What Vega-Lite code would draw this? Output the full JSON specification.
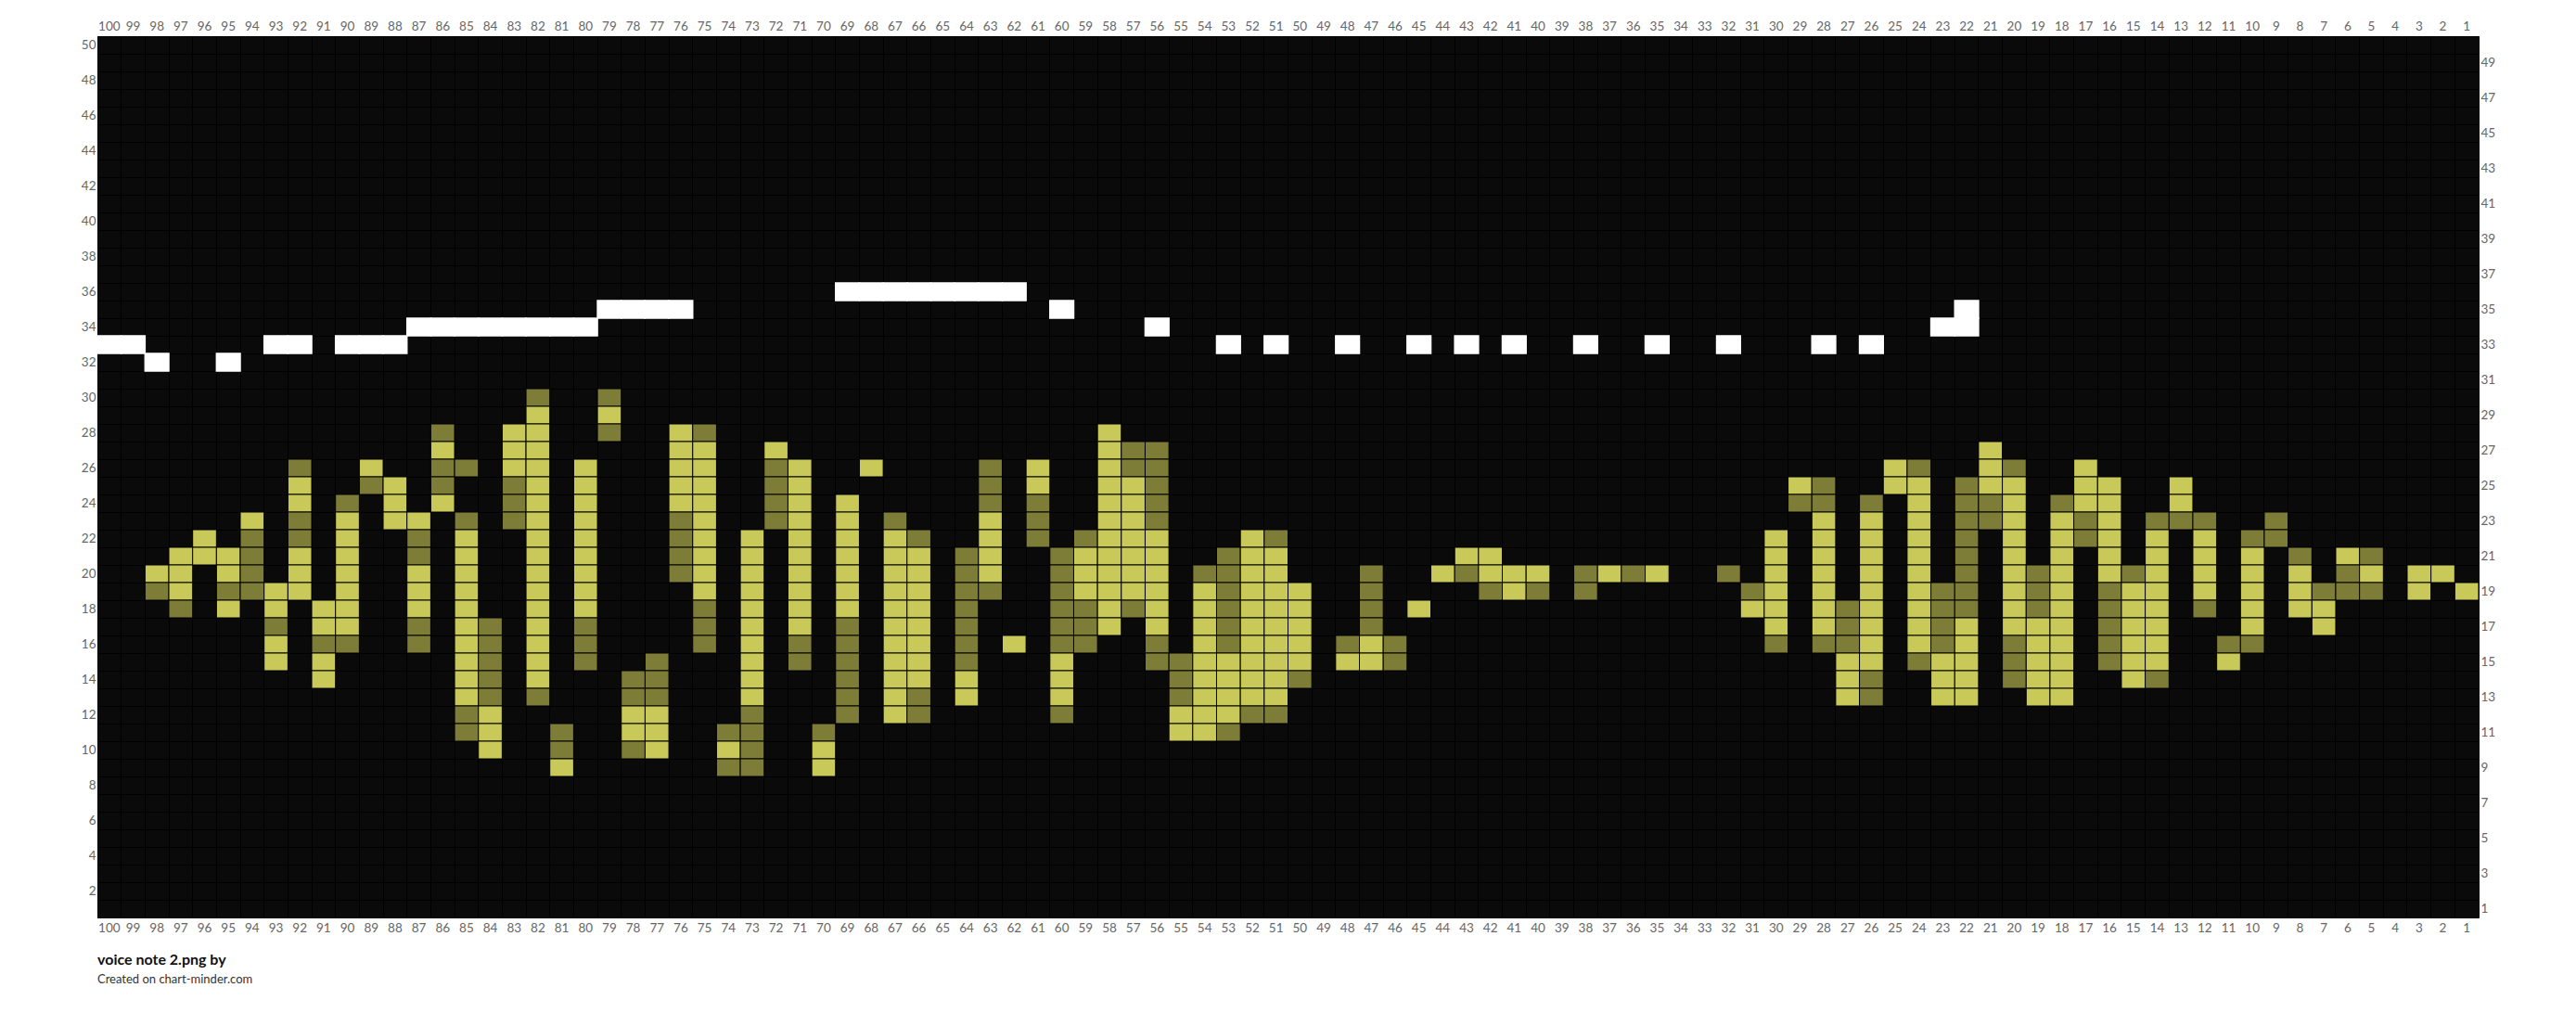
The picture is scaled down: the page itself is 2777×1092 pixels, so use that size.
{
  "$schema": "https://vega.github.io/schema/vega-lite/v6.json",
  "autosize": "none",
  "width": 2567,
  "height": 950,
  "padding": {"left": 105, "top": 39, "right": 105, "bottom": 103},
  "background": "#ffffff",
  "config": {"view": {"fill": "#0a0a0a", "stroke": "#000000"}, "font": "Lato"},
  "title": {"text": "voice note 2.png by", "subtitle": "Created on chart-minder.com", "orient": "bottom", "anchor": "start", "frame": "group", "font": "Lato", "fontSize": 16, "fontWeight": "bold", "color": "#111111", "subtitleFont": "Lato", "subtitleFontSize": 13, "subtitleColor": "#333333", "subtitlePadding": 7, "offset": 20},
  "data": {"values": [
    {"c":100,"r":33,"v":"W"},
    {"c":99,"r":33,"v":"W"},
    {"c":98,"r":32,"v":"W"},{"c":98,"r":20,"v":"Y"},{"c":98,"r":19,"v":"O"},
    {"c":97,"r":21,"v":"Y"},{"c":97,"r":20,"v":"Y"},{"c":97,"r":19,"v":"Y"},{"c":97,"r":18,"v":"O"},
    {"c":96,"r":22,"v":"Y"},{"c":96,"r":21,"v":"Y"},
    {"c":95,"r":32,"v":"W"},{"c":95,"r":21,"v":"Y"},{"c":95,"r":20,"v":"Y"},{"c":95,"r":19,"v":"O"},{"c":95,"r":18,"v":"Y"},
    {"c":94,"r":23,"v":"Y"},{"c":94,"r":22,"v":"O"},{"c":94,"r":21,"v":"O"},{"c":94,"r":20,"v":"O"},{"c":94,"r":19,"v":"O"},
    {"c":93,"r":33,"v":"W"},{"c":93,"r":19,"v":"Y"},{"c":93,"r":18,"v":"Y"},{"c":93,"r":17,"v":"O"},{"c":93,"r":16,"v":"Y"},{"c":93,"r":15,"v":"Y"},
    {"c":92,"r":33,"v":"W"},{"c":92,"r":26,"v":"O"},{"c":92,"r":25,"v":"Y"},{"c":92,"r":24,"v":"Y"},{"c":92,"r":23,"v":"O"},{"c":92,"r":22,"v":"O"},{"c":92,"r":21,"v":"Y"},{"c":92,"r":20,"v":"Y"},{"c":92,"r":19,"v":"Y"},
    {"c":91,"r":18,"v":"Y"},{"c":91,"r":17,"v":"Y"},{"c":91,"r":16,"v":"O"},{"c":91,"r":15,"v":"Y"},{"c":91,"r":14,"v":"Y"},
    {"c":90,"r":33,"v":"W"},{"c":90,"r":24,"v":"O"},{"c":90,"r":23,"v":"Y"},{"c":90,"r":22,"v":"Y"},{"c":90,"r":21,"v":"Y"},{"c":90,"r":20,"v":"Y"},{"c":90,"r":19,"v":"Y"},{"c":90,"r":18,"v":"Y"},{"c":90,"r":17,"v":"Y"},{"c":90,"r":16,"v":"O"},
    {"c":89,"r":33,"v":"W"},{"c":89,"r":26,"v":"Y"},{"c":89,"r":25,"v":"O"},
    {"c":88,"r":33,"v":"W"},{"c":88,"r":25,"v":"Y"},{"c":88,"r":24,"v":"Y"},{"c":88,"r":23,"v":"Y"},
    {"c":87,"r":34,"v":"W"},{"c":87,"r":23,"v":"Y"},{"c":87,"r":22,"v":"O"},{"c":87,"r":21,"v":"O"},{"c":87,"r":20,"v":"Y"},{"c":87,"r":19,"v":"Y"},{"c":87,"r":18,"v":"Y"},{"c":87,"r":17,"v":"O"},{"c":87,"r":16,"v":"O"},
    {"c":86,"r":34,"v":"W"},{"c":86,"r":28,"v":"O"},{"c":86,"r":27,"v":"Y"},{"c":86,"r":26,"v":"O"},{"c":86,"r":25,"v":"O"},{"c":86,"r":24,"v":"Y"},
    {"c":85,"r":34,"v":"W"},{"c":85,"r":26,"v":"O"},{"c":85,"r":23,"v":"O"},{"c":85,"r":22,"v":"Y"},{"c":85,"r":21,"v":"Y"},{"c":85,"r":20,"v":"Y"},{"c":85,"r":19,"v":"Y"},{"c":85,"r":18,"v":"Y"},{"c":85,"r":17,"v":"Y"},{"c":85,"r":16,"v":"Y"},{"c":85,"r":15,"v":"Y"},{"c":85,"r":14,"v":"Y"},{"c":85,"r":13,"v":"Y"},{"c":85,"r":12,"v":"O"},{"c":85,"r":11,"v":"O"},
    {"c":84,"r":34,"v":"W"},{"c":84,"r":17,"v":"O"},{"c":84,"r":16,"v":"O"},{"c":84,"r":15,"v":"O"},{"c":84,"r":14,"v":"O"},{"c":84,"r":13,"v":"O"},{"c":84,"r":12,"v":"Y"},{"c":84,"r":11,"v":"Y"},{"c":84,"r":10,"v":"Y"},
    {"c":83,"r":34,"v":"W"},{"c":83,"r":28,"v":"Y"},{"c":83,"r":27,"v":"Y"},{"c":83,"r":26,"v":"Y"},{"c":83,"r":25,"v":"O"},{"c":83,"r":24,"v":"O"},{"c":83,"r":23,"v":"O"},
    {"c":82,"r":34,"v":"W"},{"c":82,"r":30,"v":"O"},{"c":82,"r":29,"v":"Y"},{"c":82,"r":28,"v":"Y"},{"c":82,"r":27,"v":"Y"},{"c":82,"r":26,"v":"Y"},{"c":82,"r":25,"v":"Y"},{"c":82,"r":24,"v":"Y"},{"c":82,"r":23,"v":"Y"},{"c":82,"r":22,"v":"Y"},{"c":82,"r":21,"v":"Y"},{"c":82,"r":20,"v":"Y"},{"c":82,"r":19,"v":"Y"},{"c":82,"r":18,"v":"Y"},{"c":82,"r":17,"v":"Y"},{"c":82,"r":16,"v":"Y"},{"c":82,"r":15,"v":"Y"},{"c":82,"r":14,"v":"Y"},{"c":82,"r":13,"v":"O"},
    {"c":81,"r":34,"v":"W"},{"c":81,"r":11,"v":"O"},{"c":81,"r":10,"v":"O"},{"c":81,"r":9,"v":"Y"},
    {"c":80,"r":34,"v":"W"},{"c":80,"r":26,"v":"Y"},{"c":80,"r":25,"v":"Y"},{"c":80,"r":24,"v":"Y"},{"c":80,"r":23,"v":"Y"},{"c":80,"r":22,"v":"Y"},{"c":80,"r":21,"v":"Y"},{"c":80,"r":20,"v":"Y"},{"c":80,"r":19,"v":"Y"},{"c":80,"r":18,"v":"Y"},{"c":80,"r":17,"v":"O"},{"c":80,"r":16,"v":"O"},{"c":80,"r":15,"v":"O"},
    {"c":79,"r":35,"v":"W"},{"c":79,"r":30,"v":"O"},{"c":79,"r":29,"v":"Y"},{"c":79,"r":28,"v":"O"},
    {"c":78,"r":35,"v":"W"},{"c":78,"r":14,"v":"O"},{"c":78,"r":13,"v":"O"},{"c":78,"r":12,"v":"Y"},{"c":78,"r":11,"v":"Y"},{"c":78,"r":10,"v":"O"},
    {"c":77,"r":35,"v":"W"},{"c":77,"r":15,"v":"O"},{"c":77,"r":14,"v":"O"},{"c":77,"r":13,"v":"O"},{"c":77,"r":12,"v":"Y"},{"c":77,"r":11,"v":"Y"},{"c":77,"r":10,"v":"Y"},
    {"c":76,"r":35,"v":"W"},{"c":76,"r":28,"v":"Y"},{"c":76,"r":27,"v":"Y"},{"c":76,"r":26,"v":"Y"},{"c":76,"r":25,"v":"Y"},{"c":76,"r":24,"v":"Y"},{"c":76,"r":23,"v":"O"},{"c":76,"r":22,"v":"O"},{"c":76,"r":21,"v":"O"},{"c":76,"r":20,"v":"O"},
    {"c":75,"r":28,"v":"O"},{"c":75,"r":27,"v":"Y"},{"c":75,"r":26,"v":"Y"},{"c":75,"r":25,"v":"Y"},{"c":75,"r":24,"v":"Y"},{"c":75,"r":23,"v":"Y"},{"c":75,"r":22,"v":"Y"},{"c":75,"r":21,"v":"Y"},{"c":75,"r":20,"v":"Y"},{"c":75,"r":19,"v":"Y"},{"c":75,"r":18,"v":"O"},{"c":75,"r":17,"v":"O"},{"c":75,"r":16,"v":"O"},
    {"c":74,"r":11,"v":"O"},{"c":74,"r":10,"v":"Y"},{"c":74,"r":9,"v":"O"},
    {"c":73,"r":22,"v":"Y"},{"c":73,"r":21,"v":"Y"},{"c":73,"r":20,"v":"Y"},{"c":73,"r":19,"v":"Y"},{"c":73,"r":18,"v":"Y"},{"c":73,"r":17,"v":"Y"},{"c":73,"r":16,"v":"Y"},{"c":73,"r":15,"v":"Y"},{"c":73,"r":14,"v":"Y"},{"c":73,"r":13,"v":"Y"},{"c":73,"r":12,"v":"O"},{"c":73,"r":11,"v":"O"},{"c":73,"r":10,"v":"O"},{"c":73,"r":9,"v":"O"},
    {"c":72,"r":27,"v":"Y"},{"c":72,"r":26,"v":"O"},{"c":72,"r":25,"v":"O"},{"c":72,"r":24,"v":"O"},{"c":72,"r":23,"v":"O"},
    {"c":71,"r":26,"v":"Y"},{"c":71,"r":25,"v":"Y"},{"c":71,"r":24,"v":"Y"},{"c":71,"r":23,"v":"Y"},{"c":71,"r":22,"v":"Y"},{"c":71,"r":21,"v":"Y"},{"c":71,"r":20,"v":"Y"},{"c":71,"r":19,"v":"Y"},{"c":71,"r":18,"v":"Y"},{"c":71,"r":17,"v":"Y"},{"c":71,"r":16,"v":"O"},{"c":71,"r":15,"v":"O"},
    {"c":70,"r":11,"v":"O"},{"c":70,"r":10,"v":"Y"},{"c":70,"r":9,"v":"Y"},
    {"c":69,"r":36,"v":"W"},{"c":69,"r":24,"v":"Y"},{"c":69,"r":23,"v":"Y"},{"c":69,"r":22,"v":"Y"},{"c":69,"r":21,"v":"Y"},{"c":69,"r":20,"v":"Y"},{"c":69,"r":19,"v":"Y"},{"c":69,"r":18,"v":"Y"},{"c":69,"r":17,"v":"O"},{"c":69,"r":16,"v":"O"},{"c":69,"r":15,"v":"O"},{"c":69,"r":14,"v":"O"},{"c":69,"r":13,"v":"O"},{"c":69,"r":12,"v":"O"},
    {"c":68,"r":36,"v":"W"},{"c":68,"r":26,"v":"Y"},
    {"c":67,"r":36,"v":"W"},{"c":67,"r":23,"v":"O"},{"c":67,"r":22,"v":"Y"},{"c":67,"r":21,"v":"Y"},{"c":67,"r":20,"v":"Y"},{"c":67,"r":19,"v":"Y"},{"c":67,"r":18,"v":"Y"},{"c":67,"r":17,"v":"Y"},{"c":67,"r":16,"v":"Y"},{"c":67,"r":15,"v":"Y"},{"c":67,"r":14,"v":"Y"},{"c":67,"r":13,"v":"Y"},{"c":67,"r":12,"v":"Y"},
    {"c":66,"r":36,"v":"W"},{"c":66,"r":22,"v":"O"},{"c":66,"r":21,"v":"Y"},{"c":66,"r":20,"v":"Y"},{"c":66,"r":19,"v":"Y"},{"c":66,"r":18,"v":"Y"},{"c":66,"r":17,"v":"Y"},{"c":66,"r":16,"v":"Y"},{"c":66,"r":15,"v":"Y"},{"c":66,"r":14,"v":"Y"},{"c":66,"r":13,"v":"O"},{"c":66,"r":12,"v":"O"},
    {"c":65,"r":36,"v":"W"},
    {"c":64,"r":36,"v":"W"},{"c":64,"r":21,"v":"O"},{"c":64,"r":20,"v":"O"},{"c":64,"r":19,"v":"O"},{"c":64,"r":18,"v":"O"},{"c":64,"r":17,"v":"O"},{"c":64,"r":16,"v":"O"},{"c":64,"r":15,"v":"O"},{"c":64,"r":14,"v":"Y"},{"c":64,"r":13,"v":"Y"},
    {"c":63,"r":36,"v":"W"},{"c":63,"r":26,"v":"O"},{"c":63,"r":25,"v":"O"},{"c":63,"r":24,"v":"O"},{"c":63,"r":23,"v":"Y"},{"c":63,"r":22,"v":"Y"},{"c":63,"r":21,"v":"Y"},{"c":63,"r":20,"v":"Y"},{"c":63,"r":19,"v":"O"},
    {"c":62,"r":36,"v":"W"},{"c":62,"r":16,"v":"Y"},
    {"c":61,"r":26,"v":"Y"},{"c":61,"r":25,"v":"Y"},{"c":61,"r":24,"v":"O"},{"c":61,"r":23,"v":"O"},{"c":61,"r":22,"v":"O"},
    {"c":60,"r":35,"v":"W"},{"c":60,"r":21,"v":"O"},{"c":60,"r":20,"v":"O"},{"c":60,"r":19,"v":"O"},{"c":60,"r":18,"v":"O"},{"c":60,"r":17,"v":"O"},{"c":60,"r":16,"v":"O"},{"c":60,"r":15,"v":"Y"},{"c":60,"r":14,"v":"Y"},{"c":60,"r":13,"v":"Y"},{"c":60,"r":12,"v":"O"},
    {"c":59,"r":22,"v":"O"},{"c":59,"r":21,"v":"Y"},{"c":59,"r":20,"v":"Y"},{"c":59,"r":19,"v":"Y"},{"c":59,"r":18,"v":"O"},{"c":59,"r":17,"v":"O"},{"c":59,"r":16,"v":"O"},
    {"c":58,"r":28,"v":"Y"},{"c":58,"r":27,"v":"Y"},{"c":58,"r":26,"v":"Y"},{"c":58,"r":25,"v":"Y"},{"c":58,"r":24,"v":"Y"},{"c":58,"r":23,"v":"Y"},{"c":58,"r":22,"v":"Y"},{"c":58,"r":21,"v":"Y"},{"c":58,"r":20,"v":"Y"},{"c":58,"r":19,"v":"Y"},{"c":58,"r":18,"v":"Y"},{"c":58,"r":17,"v":"Y"},
    {"c":57,"r":27,"v":"O"},{"c":57,"r":26,"v":"O"},{"c":57,"r":25,"v":"Y"},{"c":57,"r":24,"v":"Y"},{"c":57,"r":23,"v":"Y"},{"c":57,"r":22,"v":"Y"},{"c":57,"r":21,"v":"Y"},{"c":57,"r":20,"v":"Y"},{"c":57,"r":19,"v":"Y"},{"c":57,"r":18,"v":"O"},
    {"c":56,"r":34,"v":"W"},{"c":56,"r":27,"v":"O"},{"c":56,"r":26,"v":"O"},{"c":56,"r":25,"v":"O"},{"c":56,"r":24,"v":"O"},{"c":56,"r":23,"v":"O"},{"c":56,"r":22,"v":"Y"},{"c":56,"r":21,"v":"Y"},{"c":56,"r":20,"v":"Y"},{"c":56,"r":19,"v":"Y"},{"c":56,"r":18,"v":"Y"},{"c":56,"r":17,"v":"Y"},{"c":56,"r":16,"v":"O"},{"c":56,"r":15,"v":"O"},
    {"c":55,"r":15,"v":"O"},{"c":55,"r":14,"v":"O"},{"c":55,"r":13,"v":"O"},{"c":55,"r":12,"v":"Y"},{"c":55,"r":11,"v":"Y"},
    {"c":54,"r":20,"v":"O"},{"c":54,"r":19,"v":"Y"},{"c":54,"r":18,"v":"Y"},{"c":54,"r":17,"v":"Y"},{"c":54,"r":16,"v":"Y"},{"c":54,"r":15,"v":"Y"},{"c":54,"r":14,"v":"Y"},{"c":54,"r":13,"v":"Y"},{"c":54,"r":12,"v":"Y"},{"c":54,"r":11,"v":"Y"},
    {"c":53,"r":33,"v":"W"},{"c":53,"r":21,"v":"O"},{"c":53,"r":20,"v":"O"},{"c":53,"r":19,"v":"O"},{"c":53,"r":18,"v":"O"},{"c":53,"r":17,"v":"O"},{"c":53,"r":16,"v":"O"},{"c":53,"r":15,"v":"Y"},{"c":53,"r":14,"v":"Y"},{"c":53,"r":13,"v":"Y"},{"c":53,"r":12,"v":"Y"},{"c":53,"r":11,"v":"O"},
    {"c":52,"r":22,"v":"Y"},{"c":52,"r":21,"v":"Y"},{"c":52,"r":20,"v":"Y"},{"c":52,"r":19,"v":"Y"},{"c":52,"r":18,"v":"Y"},{"c":52,"r":17,"v":"Y"},{"c":52,"r":16,"v":"Y"},{"c":52,"r":15,"v":"Y"},{"c":52,"r":14,"v":"Y"},{"c":52,"r":13,"v":"Y"},{"c":52,"r":12,"v":"O"},
    {"c":51,"r":33,"v":"W"},{"c":51,"r":22,"v":"O"},{"c":51,"r":21,"v":"Y"},{"c":51,"r":20,"v":"Y"},{"c":51,"r":19,"v":"Y"},{"c":51,"r":18,"v":"Y"},{"c":51,"r":17,"v":"Y"},{"c":51,"r":16,"v":"Y"},{"c":51,"r":15,"v":"Y"},{"c":51,"r":14,"v":"Y"},{"c":51,"r":13,"v":"Y"},{"c":51,"r":12,"v":"O"},
    {"c":50,"r":19,"v":"Y"},{"c":50,"r":18,"v":"Y"},{"c":50,"r":17,"v":"Y"},{"c":50,"r":16,"v":"Y"},{"c":50,"r":15,"v":"Y"},{"c":50,"r":14,"v":"O"},
    {"c":48,"r":33,"v":"W"},{"c":48,"r":16,"v":"O"},{"c":48,"r":15,"v":"Y"},
    {"c":47,"r":20,"v":"O"},{"c":47,"r":19,"v":"O"},{"c":47,"r":18,"v":"O"},{"c":47,"r":17,"v":"O"},{"c":47,"r":16,"v":"Y"},{"c":47,"r":15,"v":"Y"},
    {"c":46,"r":16,"v":"O"},{"c":46,"r":15,"v":"O"},
    {"c":45,"r":33,"v":"W"},{"c":45,"r":18,"v":"Y"},
    {"c":44,"r":20,"v":"Y"},
    {"c":43,"r":33,"v":"W"},{"c":43,"r":21,"v":"Y"},{"c":43,"r":20,"v":"O"},
    {"c":42,"r":21,"v":"Y"},{"c":42,"r":20,"v":"Y"},{"c":42,"r":19,"v":"O"},
    {"c":41,"r":33,"v":"W"},{"c":41,"r":20,"v":"Y"},{"c":41,"r":19,"v":"Y"},
    {"c":40,"r":20,"v":"Y"},{"c":40,"r":19,"v":"O"},
    {"c":38,"r":33,"v":"W"},{"c":38,"r":20,"v":"O"},{"c":38,"r":19,"v":"O"},
    {"c":37,"r":20,"v":"Y"},
    {"c":36,"r":20,"v":"O"},
    {"c":35,"r":33,"v":"W"},{"c":35,"r":20,"v":"Y"},
    {"c":32,"r":33,"v":"W"},{"c":32,"r":20,"v":"O"},
    {"c":31,"r":19,"v":"O"},{"c":31,"r":18,"v":"Y"},
    {"c":30,"r":22,"v":"Y"},{"c":30,"r":21,"v":"Y"},{"c":30,"r":20,"v":"Y"},{"c":30,"r":19,"v":"Y"},{"c":30,"r":18,"v":"Y"},{"c":30,"r":17,"v":"Y"},{"c":30,"r":16,"v":"O"},
    {"c":29,"r":25,"v":"Y"},{"c":29,"r":24,"v":"O"},
    {"c":28,"r":33,"v":"W"},{"c":28,"r":25,"v":"O"},{"c":28,"r":24,"v":"O"},{"c":28,"r":23,"v":"Y"},{"c":28,"r":22,"v":"Y"},{"c":28,"r":21,"v":"Y"},{"c":28,"r":20,"v":"Y"},{"c":28,"r":19,"v":"Y"},{"c":28,"r":18,"v":"Y"},{"c":28,"r":17,"v":"Y"},{"c":28,"r":16,"v":"O"},
    {"c":27,"r":18,"v":"O"},{"c":27,"r":17,"v":"O"},{"c":27,"r":16,"v":"O"},{"c":27,"r":15,"v":"Y"},{"c":27,"r":14,"v":"Y"},{"c":27,"r":13,"v":"Y"},
    {"c":26,"r":33,"v":"W"},{"c":26,"r":24,"v":"O"},{"c":26,"r":23,"v":"Y"},{"c":26,"r":22,"v":"Y"},{"c":26,"r":21,"v":"Y"},{"c":26,"r":20,"v":"Y"},{"c":26,"r":19,"v":"Y"},{"c":26,"r":18,"v":"Y"},{"c":26,"r":17,"v":"Y"},{"c":26,"r":16,"v":"Y"},{"c":26,"r":15,"v":"Y"},{"c":26,"r":14,"v":"O"},{"c":26,"r":13,"v":"O"},
    {"c":25,"r":26,"v":"Y"},{"c":25,"r":25,"v":"Y"},
    {"c":24,"r":26,"v":"O"},{"c":24,"r":25,"v":"Y"},{"c":24,"r":24,"v":"Y"},{"c":24,"r":23,"v":"Y"},{"c":24,"r":22,"v":"Y"},{"c":24,"r":21,"v":"Y"},{"c":24,"r":20,"v":"Y"},{"c":24,"r":19,"v":"Y"},{"c":24,"r":18,"v":"Y"},{"c":24,"r":17,"v":"Y"},{"c":24,"r":16,"v":"Y"},{"c":24,"r":15,"v":"O"},
    {"c":23,"r":34,"v":"W"},{"c":23,"r":19,"v":"O"},{"c":23,"r":18,"v":"O"},{"c":23,"r":17,"v":"O"},{"c":23,"r":16,"v":"O"},{"c":23,"r":15,"v":"Y"},{"c":23,"r":14,"v":"Y"},{"c":23,"r":13,"v":"Y"},
    {"c":22,"r":35,"v":"W"},{"c":22,"r":34,"v":"W"},{"c":22,"r":25,"v":"O"},{"c":22,"r":24,"v":"O"},{"c":22,"r":23,"v":"O"},{"c":22,"r":22,"v":"O"},{"c":22,"r":21,"v":"O"},{"c":22,"r":20,"v":"O"},{"c":22,"r":19,"v":"O"},{"c":22,"r":18,"v":"O"},{"c":22,"r":17,"v":"Y"},{"c":22,"r":16,"v":"Y"},{"c":22,"r":15,"v":"Y"},{"c":22,"r":14,"v":"Y"},{"c":22,"r":13,"v":"Y"},
    {"c":21,"r":27,"v":"Y"},{"c":21,"r":26,"v":"Y"},{"c":21,"r":25,"v":"Y"},{"c":21,"r":24,"v":"O"},{"c":21,"r":23,"v":"O"},
    {"c":20,"r":26,"v":"O"},{"c":20,"r":25,"v":"Y"},{"c":20,"r":24,"v":"Y"},{"c":20,"r":23,"v":"Y"},{"c":20,"r":22,"v":"Y"},{"c":20,"r":21,"v":"Y"},{"c":20,"r":20,"v":"Y"},{"c":20,"r":19,"v":"Y"},{"c":20,"r":18,"v":"Y"},{"c":20,"r":17,"v":"Y"},{"c":20,"r":16,"v":"O"},{"c":20,"r":15,"v":"O"},{"c":20,"r":14,"v":"O"},
    {"c":19,"r":20,"v":"O"},{"c":19,"r":19,"v":"O"},{"c":19,"r":18,"v":"O"},{"c":19,"r":17,"v":"Y"},{"c":19,"r":16,"v":"Y"},{"c":19,"r":15,"v":"Y"},{"c":19,"r":14,"v":"Y"},{"c":19,"r":13,"v":"Y"},
    {"c":18,"r":24,"v":"O"},{"c":18,"r":23,"v":"Y"},{"c":18,"r":22,"v":"Y"},{"c":18,"r":21,"v":"Y"},{"c":18,"r":20,"v":"Y"},{"c":18,"r":19,"v":"Y"},{"c":18,"r":18,"v":"Y"},{"c":18,"r":17,"v":"Y"},{"c":18,"r":16,"v":"Y"},{"c":18,"r":15,"v":"Y"},{"c":18,"r":14,"v":"Y"},{"c":18,"r":13,"v":"Y"},
    {"c":17,"r":26,"v":"Y"},{"c":17,"r":25,"v":"Y"},{"c":17,"r":24,"v":"Y"},{"c":17,"r":23,"v":"O"},{"c":17,"r":22,"v":"O"},
    {"c":16,"r":25,"v":"Y"},{"c":16,"r":24,"v":"Y"},{"c":16,"r":23,"v":"Y"},{"c":16,"r":22,"v":"Y"},{"c":16,"r":21,"v":"Y"},{"c":16,"r":20,"v":"Y"},{"c":16,"r":19,"v":"O"},{"c":16,"r":18,"v":"O"},{"c":16,"r":17,"v":"O"},{"c":16,"r":16,"v":"O"},{"c":16,"r":15,"v":"O"},
    {"c":15,"r":20,"v":"O"},{"c":15,"r":19,"v":"Y"},{"c":15,"r":18,"v":"Y"},{"c":15,"r":17,"v":"Y"},{"c":15,"r":16,"v":"Y"},{"c":15,"r":15,"v":"Y"},{"c":15,"r":14,"v":"Y"},
    {"c":14,"r":23,"v":"O"},{"c":14,"r":22,"v":"Y"},{"c":14,"r":21,"v":"Y"},{"c":14,"r":20,"v":"Y"},{"c":14,"r":19,"v":"Y"},{"c":14,"r":18,"v":"Y"},{"c":14,"r":17,"v":"Y"},{"c":14,"r":16,"v":"Y"},{"c":14,"r":15,"v":"Y"},{"c":14,"r":14,"v":"O"},
    {"c":13,"r":25,"v":"Y"},{"c":13,"r":24,"v":"Y"},{"c":13,"r":23,"v":"O"},
    {"c":12,"r":23,"v":"O"},{"c":12,"r":22,"v":"Y"},{"c":12,"r":21,"v":"Y"},{"c":12,"r":20,"v":"Y"},{"c":12,"r":19,"v":"Y"},{"c":12,"r":18,"v":"O"},
    {"c":11,"r":16,"v":"O"},{"c":11,"r":15,"v":"Y"},
    {"c":10,"r":22,"v":"O"},{"c":10,"r":21,"v":"Y"},{"c":10,"r":20,"v":"Y"},{"c":10,"r":19,"v":"Y"},{"c":10,"r":18,"v":"Y"},{"c":10,"r":17,"v":"Y"},{"c":10,"r":16,"v":"O"},
    {"c":9,"r":23,"v":"O"},{"c":9,"r":22,"v":"O"},
    {"c":8,"r":21,"v":"O"},{"c":8,"r":20,"v":"Y"},{"c":8,"r":19,"v":"Y"},{"c":8,"r":18,"v":"Y"},
    {"c":7,"r":19,"v":"O"},{"c":7,"r":18,"v":"Y"},{"c":7,"r":17,"v":"Y"},
    {"c":6,"r":21,"v":"Y"},{"c":6,"r":20,"v":"O"},{"c":6,"r":19,"v":"O"},
    {"c":5,"r":21,"v":"O"},{"c":5,"r":20,"v":"Y"},{"c":5,"r":19,"v":"O"},
    {"c":3,"r":20,"v":"Y"},{"c":3,"r":19,"v":"Y"},
    {"c":2,"r":20,"v":"Y"},
    {"c":1,"r":19,"v":"Y"}
  ]},
  "encoding": {
    "x": {"field": "c", "type": "ordinal",
      "scale": {"domain": [100,99,98,97,96,95,94,93,92,91,90,89,88,87,86,85,84,83,82,81,80,79,78,77,76,75,74,73,72,71,70,69,68,67,66,65,64,63,62,61,60,59,58,57,56,55,54,53,52,51,50,49,48,47,46,45,44,43,42,41,40,39,38,37,36,35,34,33,32,31,30,29,28,27,26,25,24,23,22,21,20,19,18,17,16,15,14,13,12,11,10,9,8,7,6,5,4,3,2,1], "paddingInner": 0, "paddingOuter": 0}},
    "y": {"field": "r", "type": "ordinal",
      "scale": {"domain": [50,49,48,47,46,45,44,43,42,41,40,39,38,37,36,35,34,33,32,31,30,29,28,27,26,25,24,23,22,21,20,19,18,17,16,15,14,13,12,11,10,9,8,7,6,5,4,3,2,1], "paddingInner": 0, "paddingOuter": 0}}
  },
  "layer": [
    {
      "mark": {"type": "rect", "opacity": 0},
      "encoding": {
        "x": {"field": "c", "type": "ordinal",
          "axis": {"orient": "bottom", "title": null, "zindex": 0, "ticks": false, "domain": false, "labelAngle": 0, "labelOverlap": false, "labelFlush": false, "labelPadding": 4, "labelFont": "Lato", "labelFontSize": 13.5, "labelColor": "#666666", "grid": true, "bandPosition": 0, "gridColor": "#000000", "gridOpacity": 1, "gridWidth": 1}},
        "y": {"field": "r", "type": "ordinal",
          "axis": {"orient": "left", "title": null, "zindex": 0, "values": [50,48,46,44,42,40,38,36,34,32,30,28,26,24,22,20,18,16,14,12,10,8,6,4,2], "ticks": false, "domain": false, "labelOverlap": false, "labelPadding": 2, "labelFont": "Lato", "labelFontSize": 13.5, "labelColor": "#666666", "grid": true, "bandPosition": 0, "gridColor": "#000000", "gridOpacity": 1, "gridWidth": 1}}
      }
    },
    {
      "mark": {"type": "rect", "opacity": 0},
      "encoding": {
        "x": {"field": "c", "type": "ordinal",
          "axis": {"orient": "top", "title": null, "zindex": 0, "ticks": false, "domain": false, "labelAngle": 0, "labelOverlap": false, "labelFlush": false, "labelPadding": 4, "labelFont": "Lato", "labelFontSize": 13.5, "labelColor": "#666666", "grid": false}},
        "y": {"field": "r", "type": "ordinal",
          "axis": {"orient": "right", "title": null, "zindex": 0, "values": [49,47,45,43,41,39,37,35,33,31,29,27,25,23,21,19,17,15,13,11,9,7,5,3,1], "ticks": false, "domain": false, "labelOverlap": false, "labelPadding": 2, "labelFont": "Lato", "labelFontSize": 13.5, "labelColor": "#666666", "grid": true, "bandPosition": 0, "gridColor": "#000000", "gridOpacity": 1, "gridWidth": 1}}
      }
    },
    {
      "transform": [{"filter": "datum.v != 'W'"}],
      "mark": {"type": "rect", "stroke": "#000000", "strokeWidth": 1},
      "encoding": {
        "x": {"field": "c", "type": "ordinal", "axis": null},
        "y": {"field": "r", "type": "ordinal", "axis": null},
        "fill": {"field": "v", "type": "nominal", "scale": {"domain": ["Y","O"], "range": ["#c9c95a","#7d7d37"]}, "legend": null}
      }
    },
    {
      "transform": [{"filter": "datum.v == 'W'"}],
      "mark": {"type": "rect", "fill": "#ffffff", "stroke": "#ffffff", "strokeWidth": 1.5},
      "encoding": {
        "x": {"field": "c", "type": "ordinal", "axis": null},
        "y": {"field": "r", "type": "ordinal", "axis": null}
      }
    }
  ],
  "resolve": {"axis": {"x": "independent", "y": "independent"}}
}
